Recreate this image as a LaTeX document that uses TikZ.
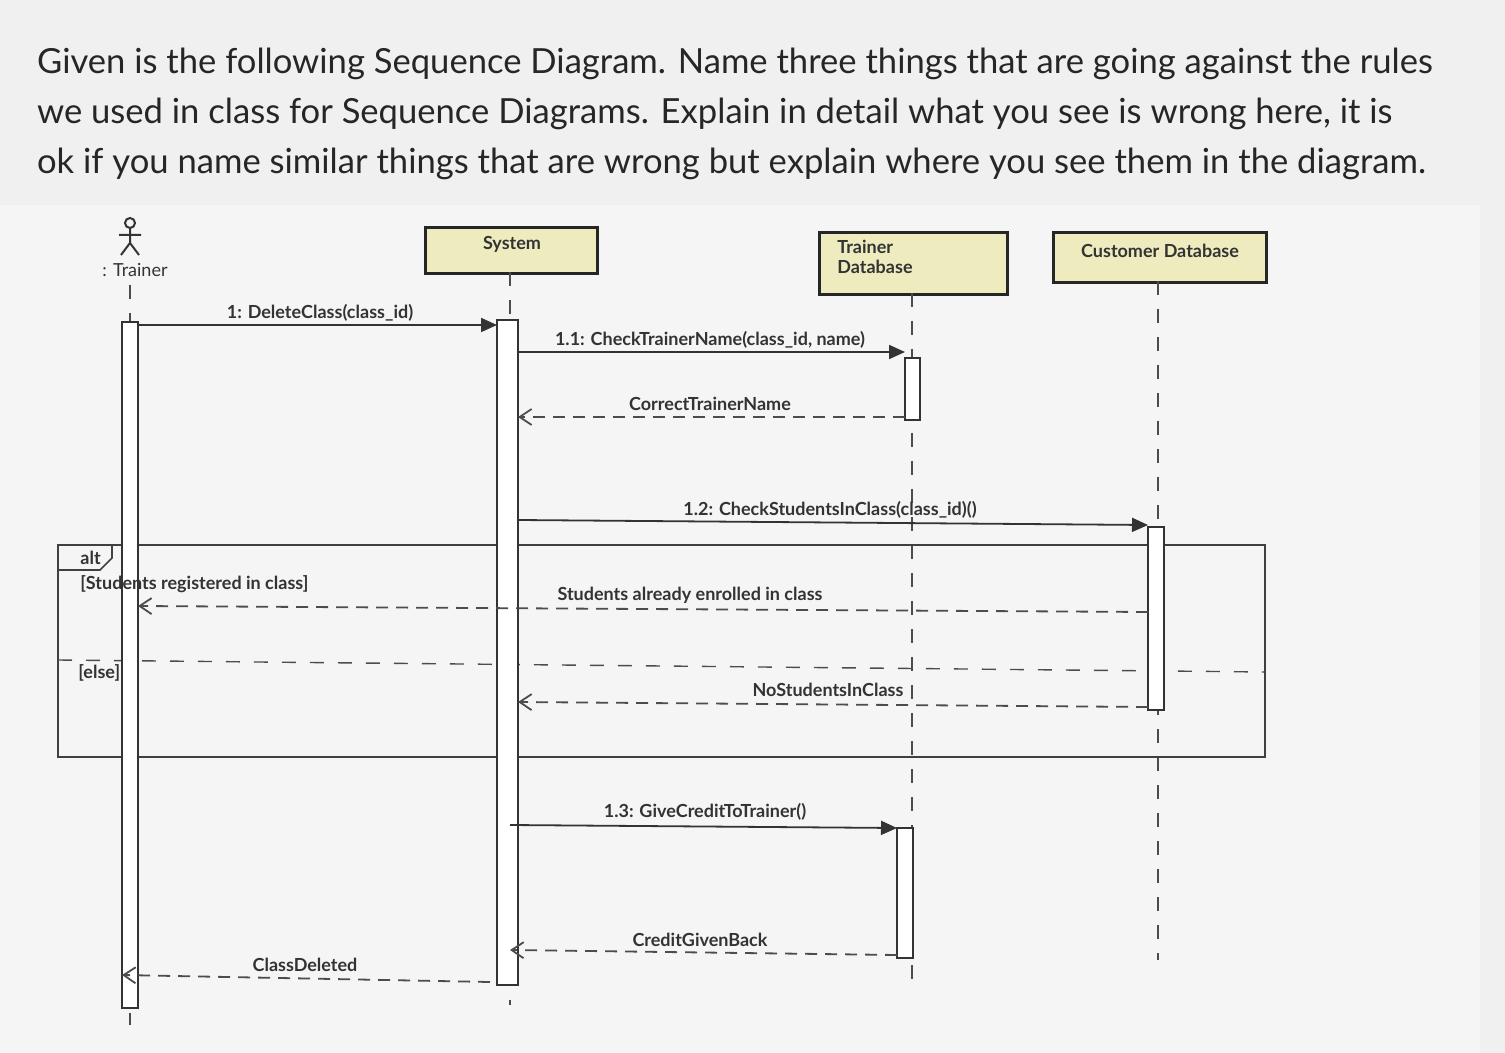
\documentclass[tikz,border=0pt]{standalone}
\usepackage{fontspec}
\setmainfont{Lato}
\usetikzlibrary{arrows.meta}
\begin{document}
\begin{tikzpicture}[x=0.5pt,y=-0.5pt,
  obj/.style={draw=black!85,line width=1.6pt,fill=yellow!25!olive!20,font=\bfseries\fontsize{9}{10}\selectfont,text=black!80},
  life/.style={draw=black!70,dash pattern=on 7pt off 7pt,line width=0.7pt},
  act/.style={draw=black!80,fill=white,line width=1pt},
  call/.style={draw=black!80,line width=0.9pt,-{Triangle[length=8pt,width=7pt]}},
  ret/.style={draw=black!70,line width=0.9pt,dash pattern=on 6pt off 4pt,-{Straight Barb[length=6pt,width=8pt]}},
  lbl/.style={font=\bfseries\fontsize{9}{10}\selectfont,text=black!80,inner sep=1pt}]
\useasboundingbox[fill=black!6] (0,0) rectangle (1505,1053);
\fill[white!96!black] (0,205) rectangle (1480,1053);
% title
\node[anchor=west,font=\fontsize{17.3}{19}\selectfont,text=black!85] (t1) at (30,64) {Given is the following Sequence Diagram. Name three things that are going against the rules};
\node[anchor=west,font=\fontsize{17.3}{19}\selectfont,text=black!85] (t2) at (30,114) {we used in class for Sequence Diagrams. Explain in detail what you see is wrong here, it is};
\node[anchor=west,font=\fontsize{17.3}{19}\selectfont,text=black!85] (t3) at (30,164) {ok if you name similar things that are wrong but explain where you see them in the diagram.};
% actor
\draw[black!80,line width=1pt] (130,223) circle (5);
\draw[black!80,line width=1pt] (130,228)--(130,243) (119,235)--(141,235) (130,243)--(121,255) (130,243)--(139,255);
\node[lbl,font=\fontsize{9}{10}\selectfont] (trn) at (135,270) {: Trainer};
% objects
\node[obj,minimum width=172*0.5pt,minimum height=46*0.5pt,anchor=north west,align=left] (sys) at (424,226) {};
\node[lbl] at (512,244) {System};
\node[obj,minimum width=188*0.5pt,minimum height=62*0.5pt,anchor=north west] (tdb) at (818,231) {};
\node[lbl,anchor=north west,align=left] at (835,238) {Trainer\\Database};
\node[obj,minimum width=213*0.5pt,minimum height=50*0.5pt,anchor=north west] (cdb) at (1052,231) {};
\node[lbl] at (1160,251) {Customer Database};
% lifelines
\draw[life] (130,285)--(130,1025);
\draw[life] (510,272)--(510,1005);
\draw[life] (912,293)--(912,980);
\draw[life] (1158,281)--(1158,960);
% alt frame
\draw[black!75,line width=1pt] (58,545) rectangle (1265,757);
\draw[black!75,line width=0.8pt] (58,570)--(100,570)--(112,558)--(112,545);
\draw[life] (58,660)--(1265,672);
% activations
\draw[act] (122,322) rectangle (138,1008);
\draw[act] (497,320) rectangle (518,985);
\draw[act] (905,358) rectangle (920,420);
\draw[act] (1148,527) rectangle (1164,710);
\draw[act] (897,828) rectangle (913,958);
\node[lbl,anchor=west] (alt) at (78,558) {alt};
\node[lbl,anchor=west] (g1) at (78,584) {[Students registered in class]};
\node[lbl,anchor=west] (g2) at (76,673) {[else]};
% coordinates
\coordinate (a1) at (138,325); \coordinate (b1) at (497,325);
\coordinate (a2) at (518,352); \coordinate (b2) at (905,352);
\coordinate (a3) at (905,417); \coordinate (b3) at (518,417);
\coordinate (a4) at (518,520); \coordinate (b4) at (1148,525);
\coordinate (a5) at (1148,612); \coordinate (b5) at (138,606);
\coordinate (a6) at (1148,707); \coordinate (b6) at (518,702);
\coordinate (a7) at (510,825); \coordinate (b7) at (897,828);
\coordinate (a8) at (897,955); \coordinate (b8) at (510,950);
\coordinate (a9) at (490,982); \coordinate (b9) at (122,975);
\draw[call] (a1)--(b1); \node[lbl] at (320,313) {1: DeleteClass(class\_id)};
\draw[call] (a2)--(b2); \node[lbl] at (710,340) {1.1: CheckTrainerName(class\_id, name)};
\draw[ret] (a3)--(b3); \node[lbl] at (710,404) {CorrectTrainerName};
\draw[call] (a4)--(b4); \node[lbl] at (830,510) {1.2: CheckStudentsInClass(class\_id)()};
\draw[ret] (a5)--(b5); \node[lbl] at (690,595) {Students already enrolled in class};
\draw[ret] (a6)--(b6); \node[lbl] at (828,690) {NoStudentsInClass};
\draw[call] (a7)--(b7); \node[lbl] at (705,812) {1.3: GiveCreditToTrainer()};
\draw[ret] (a8)--(b8); \node[lbl] at (700,940) {CreditGivenBack};
\draw[ret] (a9)--(b9); \node[lbl] at (305,965) {ClassDeleted};
\end{tikzpicture}
\end{document}
